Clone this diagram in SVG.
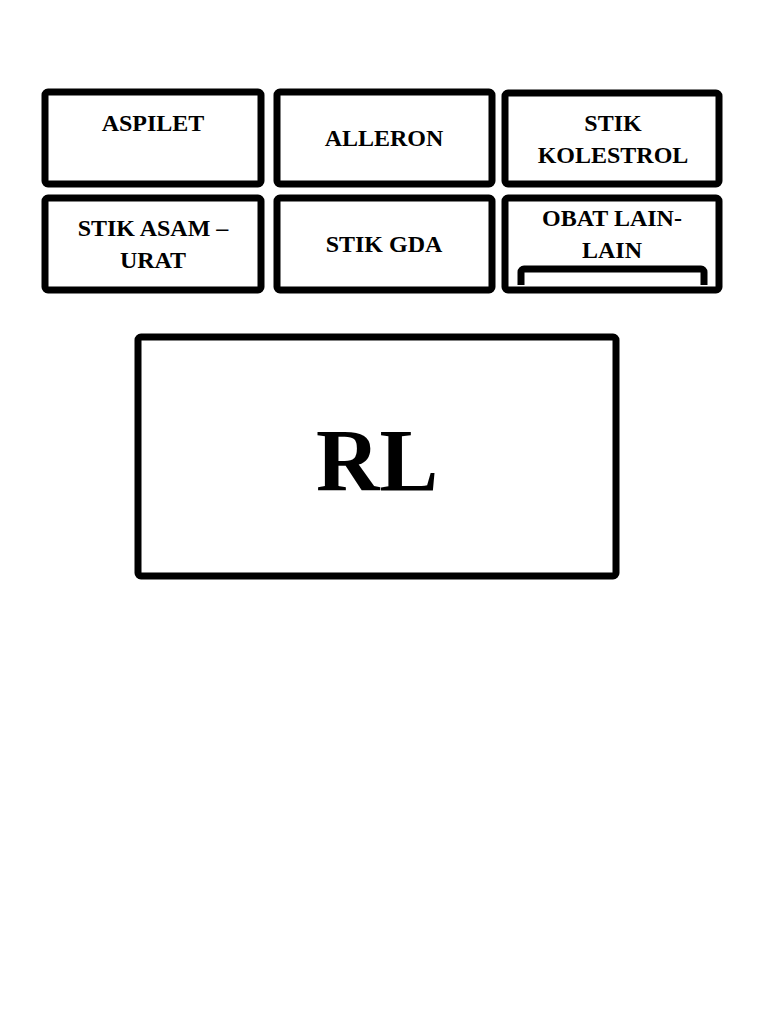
<svg xmlns="http://www.w3.org/2000/svg" width="768" height="1024" viewBox="0 0 768 1024">
<style>
.b{fill:#fff;stroke:#000;stroke-width:7}
.t{font-family:"Liberation Serif",serif;font-weight:bold;font-size:24px;text-anchor:middle}
</style>
<defs><clipPath id="c"><rect x="508" y="200" width="208" height="85"/></clipPath></defs>
<rect width="768" height="1024" fill="#fff"/>
<g id="n1"><rect class="b" x="45" y="92" width="216" height="92" rx="3"/><text class="t" x="153" y="131">ASPILET</text></g>
<g id="n2"><rect class="b" x="277" y="92" width="215" height="92" rx="3"/><text class="t" x="384" y="146">ALLERON</text></g>
<g id="n3"><rect class="b" x="505" y="93" width="214" height="91" rx="3"/><text class="t" x="613" y="131">STIK</text><text class="t" x="613" y="163">KOLESTROL</text></g>
<g id="n4"><rect class="b" x="45" y="198" width="216" height="92" rx="3"/><text class="t" x="153" y="236">STIK ASAM –</text><text class="t" x="153" y="268">URAT</text></g>
<g id="n5"><rect class="b" x="277" y="198" width="215" height="92" rx="3"/><text class="t" x="384" y="252">STIK GDA</text></g>
<g id="n6"><rect class="b" x="505" y="198" width="214" height="92" rx="3"/><text class="t" x="612" y="226">OBAT LAIN-</text><text class="t" x="612" y="258">LAIN</text>
<g clip-path="url(#c)"><rect class="b" x="521" y="269" width="183" height="40" rx="3"/><text class="t" x="612" y="300">ALLOPURINOL</text></g></g>
<g id="n7"><rect class="b" x="138" y="337" width="478" height="239" rx="3"/><text x="377" y="490" font-family="Liberation Serif,serif" font-weight="bold" font-size="88" text-anchor="middle">RL</text></g>
<g id="connectors"/>
</svg>
